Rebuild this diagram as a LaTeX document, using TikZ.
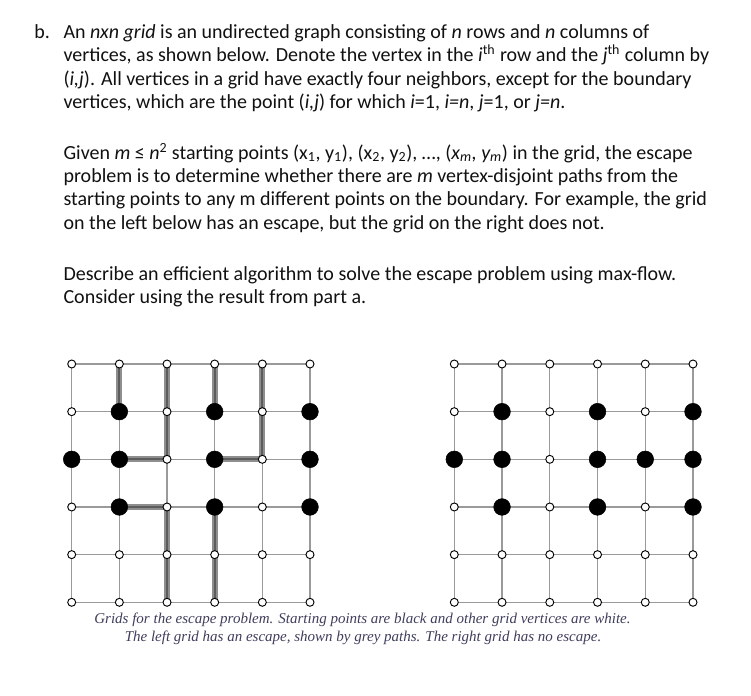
\documentclass[tikz,border=0pt]{standalone}
\usepackage{fontspec}
\setmainfont{Carlito}
\newfontfamily\capfont{Liberation Serif}
\usetikzlibrary{backgrounds}
\definecolor{gridgray}{HTML}{9A9A9A}
\definecolor{pathouter}{HTML}{8E8E8E}
\definecolor{pathinner}{HTML}{5C5C5C}
\definecolor{capcol}{RGB}{62,62,92}
\definecolor{txtcol}{HTML}{111111}
\tikzset{
  txt/.style={anchor=base west, inner sep=0pt, text=txtcol, font=\fontsize{15}{18}\selectfont},
  captxt/.style={anchor=base, inner sep=0pt, text=capcol, font=\capfont\itshape\fontsize{11.25}{13}\selectfont},
  wv/.style={circle, draw=black, fill=white, line width=0.7pt, inner sep=0pt, minimum size=6pt},
  bv/.style={circle, draw=black, fill=black, inner sep=0pt, minimum size=12.5pt},
  gridline/.style={draw=gridgray, line width=1pt},
  escouter/.style={draw=pathouter, line width=4.3pt},
  escinner/.style={draw=pathinner, line width=1.6pt}
}
\begin{document}
\begin{tikzpicture}[x=0.75pt,y=-0.75pt]
\useasboundingbox (0,0) rectangle (751,696);

% ---- text ----
\node[txt] (b) at (34,38.3) {b.};
\node[txt] (t1) at (63.3,38.3) {An \textit{nxn grid} is an undirected graph consisting of \textit{n} rows and \textit{n} columns of};
\node[txt] (t2) at (63.3,61.7) {vertices, as shown below. Denote the vertex in the \textit{i}\textsuperscript{th} row and the \textit{j}\textsuperscript{th} column by};
\node[txt] (t3) at (63.3,85.1) {(\textit{i,j}). All vertices in a grid have exactly four neighbors, except for the boundary};
\node[txt] (t4) at (63.3,108.5) {vertices, which are the point (\textit{i,j}) for which \textit{i}=1, \textit{i=n}, \textit{j}=1, or \textit{j=n}.};

\node[txt] (p1) at (63.3,159) {Given \textit{m} ≤ \textit{n}\textsuperscript{2} starting points (x\textsubscript{1}, y\textsubscript{1}), (x\textsubscript{2}, y\textsubscript{2}), …, (\textit{x\textsubscript{m}, y\textsubscript{m}}) in the grid, the escape};
\node[txt] (p2) at (63.3,182.4) {problem is to determine whether there are \textit{m} vertex-disjoint paths from the};
\node[txt] (p3) at (63.3,205.8) {starting points to any m different points on the boundary. For example, the grid};
\node[txt] (p4) at (63.3,229.2) {on the left below has an escape, but the grid on the right does not.};

\node[txt] (q1) at (63.3,280) {Describe an efficient algorithm to solve the escape problem using max-flow.};
\node[txt] (q2) at (63.3,303.4) {Consider using the result from part a.};

% ---- grid vertices ----
\foreach \r in {0,...,5} {
  \foreach \c in {0,...,5} {
    \node[wv] (L\r\c) at ({71.7+47.66*\c},{364+47.66*\r}) {};
    \node[wv] (R\r\c) at ({454.3+47.74*\c},{364+47.66*\r}) {};
  }
}
\foreach \v in {11,13,15,20,21,23,25,31,33,35} {
  \node[bv] (LB\v) at (L\v) {};
}
\foreach \v in {11,13,15,20,21,23,24,25,31,33,35} {
  \node[bv] (RB\v) at (R\v) {};
}

% ---- grid edges and escape paths (behind vertices) ----
\begin{pgfonlayer}{background}
\foreach \g in {L,R} {
  \foreach \r in {0,...,5} {
    \draw[gridline] (\g\r0.center) -- (\g\r5.center);
    \draw[gridline] (\g0\r.center) -- (\g5\r.center);
  }
}
\foreach \s in {escouter, escinner} {
  \draw[\s] (L01.center) -- (L11.center);
  \draw[\s] (L02.center) -- (L22.center) -- (L21.center);
  \draw[\s] (L03.center) -- (L13.center);
  \draw[\s] (L04.center) -- (L24.center) -- (L23.center);
  \draw[\s] (L31.center) -- (L32.center) -- (L52.center);
  \draw[\s] (L33.center) -- (L53.center);
}
\end{pgfonlayer}

% ---- caption ----
\node[captxt] (c1) at (362.5,623) {Grids for the escape problem. Starting points are black and other grid vertices are white.};
\node[captxt] (c2) at (363,641) {The left grid has an escape, shown by grey paths. The right grid has no escape.};
\end{tikzpicture}
\end{document}
